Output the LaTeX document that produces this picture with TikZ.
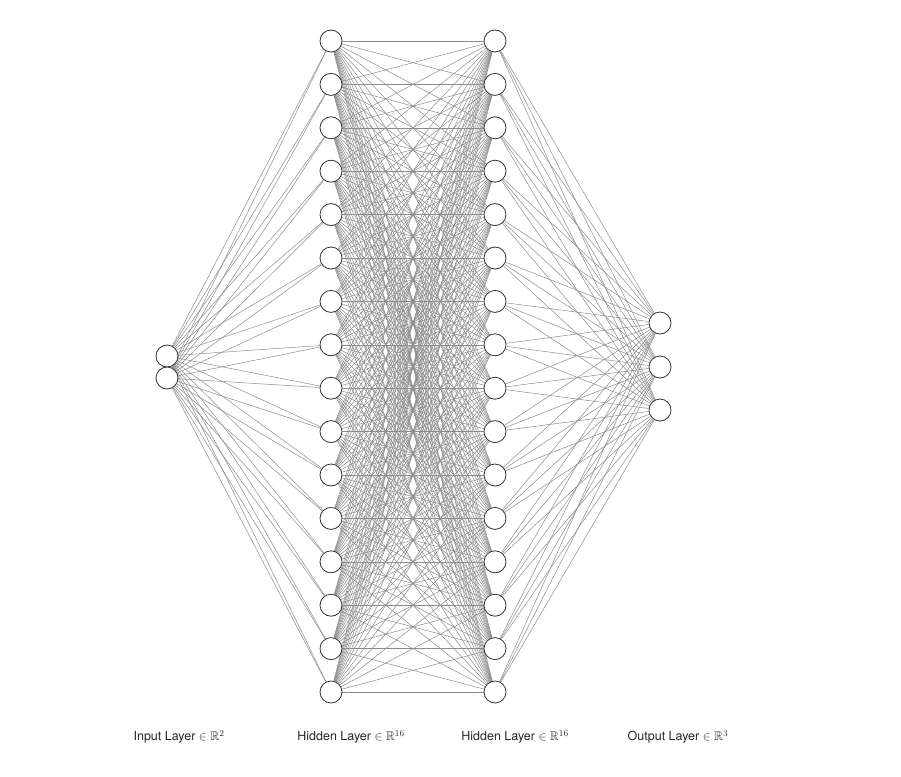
\documentclass[tikz,border=0pt]{standalone}
\usepackage{amsmath, amssymb}
\usepackage{fontspec}
\setsansfont{TeX Gyre Heros}
\usetikzlibrary{backgrounds}

\tikzset{
  neuron/.style={circle, draw=black!80, line width=0.8pt, fill=white, minimum size=22pt, inner sep=0pt},
  synapse/.style={draw=black!45, line width=0.5pt},
  layerlabel/.style={font=\sffamily\fontsize{12.5}{15}\selectfont, text=black!85}
}

\begin{document}
\begin{tikzpicture}[x=1pt, y=-1pt]
\useasboundingbox (0,0) rectangle (901,776);

\node[neuron] (in1) at (167,356) {};
\node[neuron] (in2) at (167,378) {};

\foreach \i in {1,...,16}{
  \node[neuron] (hA\i) at (331,{41+(\i-1)*43.4}) {};
  \node[neuron] (hB\i) at (495,{41+(\i-1)*43.4}) {};
}

\node[neuron] (out1) at (660,323) {};
\node[neuron] (out2) at (660,367) {};
\node[neuron] (out3) at (660,410) {};

\begin{scope}[on background layer]
\foreach \i in {1,2}
  \foreach \j in {1,...,16}
    \draw[synapse] (in\i) -- (hA\j);
\foreach \i in {1,...,16}
  \foreach \j in {1,...,16}
    \draw[synapse] (hA\i) -- (hB\j);
\foreach \i in {1,...,16}
  \foreach \j in {1,2,3}
    \draw[synapse] (hB\i) -- (out\j);
\end{scope}

\node[layerlabel] (lblIn) at (179,737) {Input Layer $\in \mathbb{R}^{2}$};
\node[layerlabel] (lblHA) at (351,737) {Hidden Layer $\in \mathbb{R}^{16}$};
\node[layerlabel] (lblHB) at (515,737) {Hidden Layer $\in \mathbb{R}^{16}$};
\node[layerlabel] (lblOut) at (678,737) {Output Layer $\in \mathbb{R}^{3}$};

\end{tikzpicture}
\end{document}
